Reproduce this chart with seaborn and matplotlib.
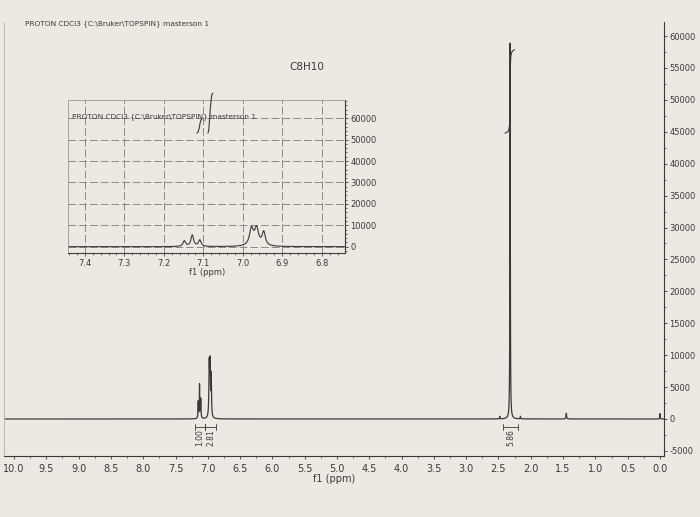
import numpy as np
import pandas as pd
import matplotlib
matplotlib.use("Agg")
import matplotlib.pyplot as plt
import matplotlib.ticker as mticker
import seaborn as sns

# peak list: shift (ppm), height, line width (FWHM, ppm)
peak_ppm = [7.148, 7.128, 7.109, 6.978, 6.965, 6.947, 2.48, 2.320, 2.16, 1.45, 0.0]
peak_height = [2600, 5300, 3000, 8000, 8000, 6400, 400, 58900, 400, 900, 850]
peak_width = [0.008, 0.008, 0.008, 0.012, 0.012, 0.010, 0.006, 0.007, 0.006, 0.010, 0.006]

# integral regions and the printed integration values
int_start = [7.17, 7.00, 2.40]
int_end = [7.09, 6.92, 2.25]
int_values = [1.00, 2.81, 5.86]
bracket_left = [7.20, 7.04, 2.43]
bracket_right = [7.04, 6.87, 2.20]

main_xticks = [10.0, 9.5, 9.0, 8.5, 8.0, 7.5, 7.0, 6.5, 6.0, 5.5, 5.0,
               4.5, 4.0, 3.5, 3.0, 2.5, 2.0, 1.5, 1.0, 0.5, 0.0]
main_yticks = [-5000, 0, 5000, 10000, 15000, 20000, 25000, 30000,
               35000, 40000, 45000, 50000, 55000, 60000]
inset_xticks = [7.4, 7.3, 7.2, 7.1, 7.0, 6.9, 6.8]
inset_yticks = [0, 10000, 20000, 30000, 40000, 50000, 60000]

title = "PROTON CDCl3 {C:\\Bruker\\TOPSPIN} masterson 1"
formula = "C8H10"

paper = "#ece8e2"
ink = "#3a3a3a"

# build the spectrum from the peak list (Lorentzian lines)
ppm = np.arange(-0.1, 10.2, 0.0005)
intensity = np.zeros_like(ppm)
for p, h, w in zip(peak_ppm, peak_height, peak_width):
    intensity += h / (1 + ((ppm - p) / (w / 2)) ** 2)
spec = pd.DataFrame({"ppm": ppm, "intensity": intensity})

sns.set_theme(style="ticks")
plt.rcParams["font.family"] = ["DejaVu Sans"]

fig = plt.figure(figsize=(7, 5.17), dpi=100, facecolor=paper)

# inset (zoom of the aromatic region)
ax_in = fig.add_axes([0.0976, 0.510, 0.3953, 0.2965], zorder=1)
ax_in.set_facecolor(paper)
zoom = spec[(spec.ppm > 6.70) & (spec.ppm < 7.50)]
sns.lineplot(data=zoom, x="ppm", y="intensity", ax=ax_in, color=ink,
             linewidth=0.8, estimator=None, sort=False)
ax_in.set_xlim(7.442, 6.741)
ax_in.set_ylim(-3100, 68500)
ax_in.set_xticks(inset_xticks)
ax_in.xaxis.set_minor_locator(mticker.MultipleLocator(0.02))
ax_in.set_yticks(inset_yticks)
ax_in.yaxis.set_minor_locator(mticker.MultipleLocator(2000))
ax_in.yaxis.tick_right()
ax_in.yaxis.set_major_formatter(mticker.FuncFormatter(lambda v, _: f"{int(v)}"))
ax_in.xaxis.set_major_formatter(mticker.FormatStrFormatter("%.1f"))
ax_in.grid(True, which="major", color="#8c8a86", linestyle=(0, (8, 3)), linewidth=0.7)
ax_in.tick_params(axis="both", which="major", labelsize=6, length=2.5, width=0.6,
                  colors=ink, pad=1.5)
ax_in.tick_params(axis="both", which="minor", length=1.5, width=0.5, colors=ink)
ax_in.set_xlabel("f1 (ppm)", fontsize=6, color=ink, labelpad=0)
ax_in.set_ylabel("")
for side in ["top", "left"]:
    ax_in.spines[side].set_color("#9a9792")
    ax_in.spines[side].set_linewidth(0.6)
for side in ["bottom", "right"]:
    ax_in.spines[side].set_color(ink)
    ax_in.spines[side].set_linewidth(0.8)
ax_in.text(0.012, 0.895, title, transform=ax_in.transAxes, fontsize=5.3,
           color=ink, ha="left", va="center")

# main spectrum
ax = fig.add_axes([4 / 700, 0.118, 660 / 700, 0.8394], zorder=2)
ax.patch.set_alpha(0)
sns.lineplot(data=spec, x="ppm", y="intensity", ax=ax, color=ink,
             linewidth=0.9, estimator=None, sort=False)

# integral curves
int_base = 44800
int_scale = 2225
for s, e, v in zip(int_start, int_end, int_values):
    seg = spec[(spec.ppm <= s) & (spec.ppm >= e)].sort_values("ppm", ascending=False)
    cum = seg["intensity"].cumsum().to_numpy()
    ax.plot(seg["ppm"], int_base + v * int_scale * cum / cum[-1],
            color=ink, linewidth=0.8)

# integration brackets and values
yb = -1250
for l, r, v in zip(bracket_left, bracket_right, int_values):
    ax.plot([l, r], [yb, yb], color=ink, linewidth=0.6)
    ax.plot([l, l], [yb - 450, yb + 450], color=ink, linewidth=0.6)
    ax.plot([r, r], [yb - 450, yb + 450], color=ink, linewidth=0.6)
    ax.text((l + r) / 2, yb - 350, f"{v:.2f}", rotation=90, ha="center",
            va="top", fontsize=5.5, color=ink)

ax.text(5.46, 55200, formula, fontsize=7.5, color=ink, ha="center", va="center")

ax.set_xlim(10.155, -0.062)
ax.set_ylim(-5800, 62200)
ax.set_xticks(main_xticks)
ax.xaxis.set_minor_locator(mticker.MultipleLocator(0.25))
ax.xaxis.set_major_formatter(mticker.FormatStrFormatter("%.1f"))
ax.set_yticks(main_yticks)
ax.yaxis.set_minor_locator(mticker.MultipleLocator(2500))
ax.yaxis.tick_right()
ax.yaxis.set_major_formatter(mticker.FuncFormatter(lambda v, _: f"{int(v)}"))
ax.tick_params(axis="x", which="major", labelsize=7, length=2.5, width=0.6,
               colors=ink, pad=3)
ax.tick_params(axis="y", which="major", labelsize=6, length=2.5, width=0.6,
               colors=ink, pad=1.5)
ax.tick_params(axis="both", which="minor", length=1.5, width=0.5, colors=ink)
ax.set_xlabel("f1 (ppm)", fontsize=7, color=ink, labelpad=0)
ax.set_ylabel("")
ax.spines["top"].set_visible(False)
ax.spines["left"].set_color("#b3afa9")
ax.spines["left"].set_linewidth(0.6)
for side in ["bottom", "right"]:
    ax.spines[side].set_color(ink)
    ax.spines[side].set_linewidth(0.8)

fig.text(25 / 700, 1 - 24 / 517, title, fontsize=5.3, color=ink, ha="left", va="center")

fig.savefig("out.png", dpi=100, facecolor=paper)
